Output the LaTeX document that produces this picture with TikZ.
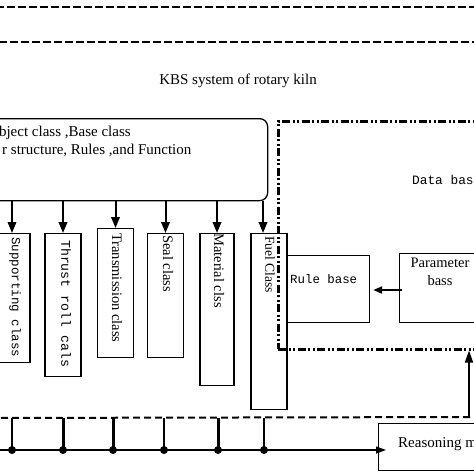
\documentclass[tikz,border=0pt]{standalone}
\usepackage{fontspec}
\setmainfont{Liberation Serif}
\setmonofont{Liberation Mono}
\usetikzlibrary{arrows.meta,positioning,shapes.misc}

\begin{document}
\begin{tikzpicture}[
    x=1pt, y=-1pt,
    node distance=5mm,%设置node之间的距离
    classbox/.style={
        % The shape:
        draw, line width=1.2pt,
        minimum width=36pt,
        anchor=north, inner sep=0pt},
    vlabel/.style={
        rotate=-90, anchor=west, inner sep=0pt,
        font=\fontsize{14.5}{16}\selectfont},
    monolabel/.style={vlabel, font=\ttfamily\fontsize{12.5}{14}\selectfont},
    dashline/.style={line width=2.5pt, dash pattern=on 8pt off 3pt},
    dbline/.style={line width=2.5pt,
        dash pattern=on 8pt off 2.5pt on 2pt off 2.5pt on 2pt off 2.5pt},
    downarrow/.style={line width=2pt, -{Triangle[length=11pt,width=8.5pt]}},
    txt/.style={font=\fontsize{15}{17}\selectfont, inner sep=0pt}]%整体框架
  \useasboundingbox (0,0) rectangle (474,474);
  \clip (0,0) rectangle (474,474);
  \draw[dashline] (-10,7) rectangle (490,42);
  \node (title) [txt] at (238,81) {KBS system of rotary kiln};
  % 对象类
  \node (obj) [draw, line width=1.3pt, rounded corners=8pt, minimum width=287pt,
      minimum height=82pt, anchor=north west] at (-20,118) {};
  \node [txt, anchor=base west] at (-12,136) {Object class ,Base class};
  \node [txt, anchor=base west] at (2,154) {r structure, Rules ,and Function};
  % 各个类
  \node (sup) [classbox, minimum height=129pt] at (12,233) {};
  \node (thr) [classbox, minimum height=143pt] at (63,233) {};
  \node (tra) [classbox, minimum height=129pt] at (115.5,228) {};
  \node (sea) [classbox, minimum height=124pt] at (165.5,233) {};
  \node (mat) [classbox, minimum height=152pt, minimum width=34pt] at (217,233) {};
  \node (fuel) [classbox, minimum height=176pt] at (269,233) {};
  \node [monolabel] at (15,237) {Supporting class};
  \node [monolabel, font=\ttfamily\fontsize{13.2}{14}\selectfont] at (66,240) {Thrust roll cals};
  \node [vlabel] at (117,233) {Transmission class};
  \node [vlabel] at (168,235) {Seal class};
  \node [vlabel] at (219,233) {Material clss};
  \node [vlabel, font=\fontsize{13.6}{15}\selectfont] at (270,236) {Fuel Class};
  \coordinate (fueltop) at ([xshift=-6pt]fuel.north);
  \foreach \c in {sup,thr,tra,sea,mat}
    \draw[downarrow] (obj.south -| \c.north) -- (\c.north);
  \draw[downarrow] (obj.south -| fueltop) -- (fueltop);
  % 数据库
  \node (db) [draw, dbline, minimum width=243pt, minimum height=228pt,
      anchor=north west] at (277,120) {};
  \node [txt, font=\ttfamily\fontsize{12.8}{14}\selectfont, anchor=west] at (412,180) {Data base};
  \node (rule) [draw, line width=1.2pt, minimum width=82pt, minimum height=67pt,
      anchor=north west] at (287,255) {};
  \node [txt, font=\ttfamily\fontsize{12.4}{14}\selectfont, anchor=west] at (290,279) {Rule base};
  \node (par) [draw, line width=1.2pt, minimum width=100pt, minimum height=69pt,
      anchor=north west] at (399,253) {};
  \node [txt, align=center, font=\fontsize{14.5}{18}\selectfont] at (440,272) {Parameter\\bass};
  \coordinate (arry) at (0,290);
  \draw[line width=2pt, -{Triangle[length=9pt,width=7pt]}, shorten >=3pt]
    ([xshift=3pt]par.west |- arry) -- (rule.east |- arry);
  % 推理机
  \draw[line width=2pt, dash pattern=on 7pt off 4pt] (-10,418) -- (480,417);
  \node (reas) [draw, line width=1.2pt, minimum width=110pt, minimum height=47pt,
      anchor=north west] at (378,423) {};
  \node [txt, anchor=west] at ([xshift=20pt,yshift=3pt]reas.west) {Reasoning machine};
  \coordinate (upx) at (469,418);
  \draw[line width=1.5pt, -{Triangle[length=12pt,width=8pt]}] (upx) -- (upx |- db.south);
  % 总线
  \foreach \x/\w in {12/1.5,63/3,113/3,164/1.5,218/3,264/2}{
    \draw[line width=\w pt] (\x,418) -- (\x,450);
    \fill (\x,450) circle (4pt);
  }
  \coordinate (bus) at (-5,450);
  \draw[line width=1.3pt, -{Triangle[length=10pt,width=7pt]}]
    (bus) -- ([xshift=8pt]bus -| reas.west);
\end{tikzpicture}
\end{document}
